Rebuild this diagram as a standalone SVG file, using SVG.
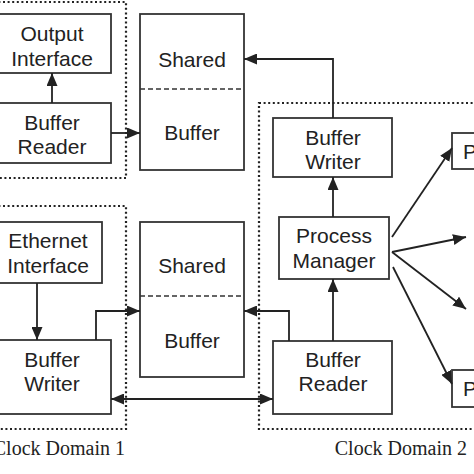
<svg xmlns="http://www.w3.org/2000/svg" width="474" height="474" viewBox="0 0 474 474">
<defs>
<marker id="ah" markerUnits="userSpaceOnUse" markerWidth="13" markerHeight="11" refX="13" refY="5.5" orient="auto-start-reverse">
<path d="M0,0 L13,5.5 L0,11 z" fill="#222"/>
</marker>
<style>
.box{fill:#fff;stroke:#333;stroke-width:1.8}
.dom{fill:none;stroke:#222;stroke-width:2.2;stroke-dasharray:2 2.6}
.dash{stroke:#333;stroke-width:1.5;stroke-dasharray:5 3}
.t{font-family:"Liberation Sans",Arial,sans-serif;font-size:21px;fill:#222;text-anchor:middle}
.lbl{font-family:"Liberation Serif","Times New Roman",serif;font-size:20px;fill:#222}
.c{fill:none;stroke:#222;stroke-width:1.8}
</style>
</defs>
<rect width="474" height="474" fill="#fff"/>
<g id="domains">
<rect class="dom" x="-20" y="2" width="146" height="176"/>
<rect class="dom" x="-20" y="206" width="146" height="223"/>
<rect class="dom" x="259" y="103" width="240" height="326"/>
</g>
<g id="output-interface">
<rect class="box" x="-8" y="14" width="119" height="59"/>
<text class="t" x="52" y="41">Output</text>
<text class="t" x="52" y="66">Interface</text>
</g>
<g id="buffer-reader-1">
<rect class="box" x="-8" y="103" width="119" height="60"/>
<text class="t" x="52" y="130">Buffer</text>
<text class="t" x="52" y="154">Reader</text>
</g>
<g id="shared-buffer-1">
<rect class="box" x="140" y="14" width="104" height="156"/>
<line class="dash" x1="140" y1="89" x2="244" y2="89"/>
<text class="t" x="192" y="67">Shared</text>
<text class="t" x="192" y="140">Buffer</text>
</g>
<g id="ethernet-interface">
<rect class="box" x="-8" y="222" width="110" height="61"/>
<text class="t" x="48" y="248">Ethernet</text>
<text class="t" x="48" y="273">Interface</text>
</g>
<g id="buffer-writer-1">
<rect class="box" x="-8" y="340" width="119" height="74"/>
<text class="t" x="52" y="367">Buffer</text>
<text class="t" x="52" y="391">Writer</text>
</g>
<g id="shared-buffer-2">
<rect class="box" x="140" y="222" width="104" height="155"/>
<line class="dash" x1="140" y1="296" x2="244" y2="296"/>
<text class="t" x="192" y="273">Shared</text>
<text class="t" x="192" y="348">Buffer</text>
</g>
<g id="buffer-writer-2">
<rect class="box" x="273" y="118" width="119" height="59"/>
<text class="t" x="333" y="145">Buffer</text>
<text class="t" x="333" y="169">Writer</text>
</g>
<g id="process-manager">
<rect class="box" x="279" y="217" width="110" height="62"/>
<text class="t" x="334" y="243">Process</text>
<text class="t" x="334" y="268">Manager</text>
</g>
<g id="buffer-reader-2">
<rect class="box" x="273" y="341" width="119" height="73"/>
<text class="t" x="333" y="367">Buffer</text>
<text class="t" x="333" y="391">Reader</text>
</g>
<g id="p-top">
<rect class="box" x="452" y="133" width="40" height="36"/>
<text class="t" x="470" y="159">P</text>
</g>
<g id="p-bottom">
<rect class="box" x="452" y="370" width="40" height="37"/>
<text class="t" x="470" y="396">P</text>
</g>
<g id="connectors">
<line class="c" x1="52" y1="103" x2="52" y2="73" marker-end="url(#ah)"/>
<line class="c" x1="111" y1="133" x2="140" y2="133" marker-end="url(#ah)"/>
<polyline class="c" points="333,118 333,59 244,59" marker-end="url(#ah)"/>
<line class="c" x1="333" y1="217" x2="333" y2="177" marker-end="url(#ah)"/>
<line class="c" x1="333" y1="341" x2="333" y2="279" marker-end="url(#ah)"/>
<polyline class="c" points="289,341 289,311 244,311" marker-end="url(#ah)"/>
<line class="c" x1="37" y1="283" x2="37" y2="340" marker-end="url(#ah)"/>
<polyline class="c" points="96,340 96,311 140,311" marker-end="url(#ah)"/>
<line class="c" x1="111" y1="399" x2="273" y2="399" marker-start="url(#ah)" marker-end="url(#ah)"/>
<line class="c" x1="392" y1="237" x2="452" y2="148" marker-end="url(#ah)"/>
<line class="c" x1="392" y1="252" x2="466" y2="237" marker-end="url(#ah)"/>
<line class="c" x1="392" y1="252" x2="466" y2="309" marker-end="url(#ah)"/>
<line class="c" x1="393" y1="267" x2="452" y2="384" marker-end="url(#ah)"/>
</g>
<g id="labels">
<text class="lbl" x="125" y="455" text-anchor="end">Clock Domain 1</text>
<text class="lbl" x="467" y="455" text-anchor="end">Clock Domain 2</text>
</g>
</svg>
